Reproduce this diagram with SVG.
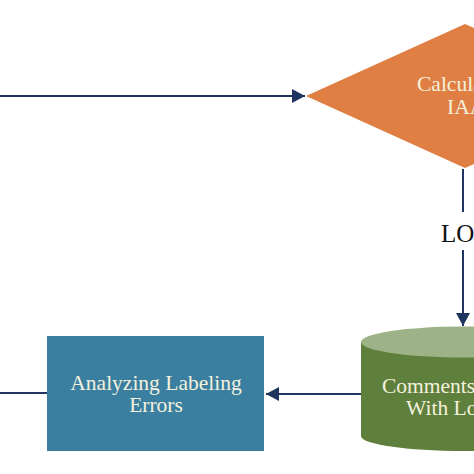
<svg xmlns="http://www.w3.org/2000/svg" width="474" height="474" viewBox="0 0 474 474">
<defs>
<marker id="ah" markerWidth="13" markerHeight="14" refX="13" refY="7" orient="auto" markerUnits="userSpaceOnUse">
<path d="M0,0 L13,7 L0,14 Z" fill="#1F3560"/>
</marker>
<style>
.conn{stroke:#1F3560;stroke-width:2;fill:none}
.lbl{font-family:"Liberation Serif","Times New Roman",serif;font-size:21.5px;fill:#F4F1DE}
.edge{font-family:"Liberation Serif","Times New Roman",serif;font-size:25px;fill:#111}
</style>
</defs>
<rect width="474" height="474" fill="#fff"/>
<g id="calc">
<polygon points="306,96 465,24 624,96 465,168" fill="#E07F44"/>
<text class="lbl" x="417" y="91">Calcula</text>
<text class="lbl" x="447" y="114">IAA</text>
</g>
<g id="comments">
<path d="M361,342 L361,436 A102,15 0 0 0 565,436 L565,342 Z" fill="#5F7F3C"/>
<ellipse cx="463" cy="342" rx="102" ry="15.5" fill="#9DB387"/>
<text class="lbl" x="382" y="393">Comments</text>
<text class="lbl" x="406" y="415">With Low</text>
</g>
<g id="analyze">
<rect x="47" y="336" width="217" height="115" fill="#3A7FA0"/>
<text class="lbl" x="156" y="390" text-anchor="middle">Analyzing Labeling</text>
<text class="lbl" x="156" y="412" text-anchor="middle">Errors</text>
</g>
<g id="connectors">
<line class="conn" x1="0" y1="96" x2="305" y2="96" marker-end="url(#ah)"/>
<line class="conn" x1="463" y1="169" x2="463" y2="212"/>
<line class="conn" x1="463" y1="250" x2="463" y2="326" marker-end="url(#ah)"/>
<text class="edge" x="441" y="242">LO</text>
<line class="conn" x1="361" y1="394" x2="266" y2="394" marker-end="url(#ah)"/>
<line class="conn" x1="0" y1="393" x2="47" y2="393"/>
</g>
</svg>
